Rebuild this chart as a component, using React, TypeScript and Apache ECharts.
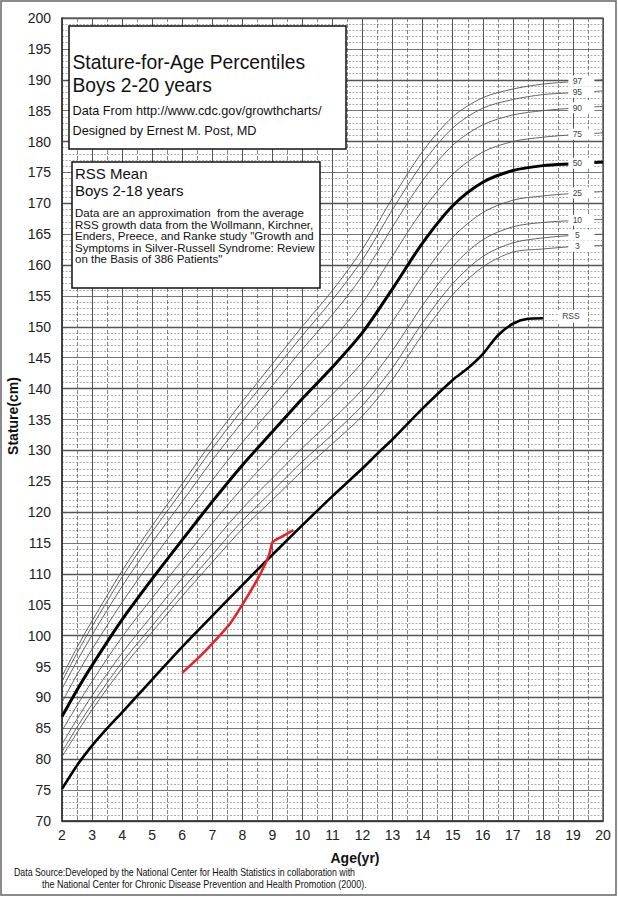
import React, { useEffect, useRef } from "react";
import * as echarts from "echarts";

const FONT = '"Liberation Sans", Arial, Helvetica, sans-serif';

// CDC stature-for-age percentiles, boys (cm)
const AGES = [2, 2.5, 3, 4, 5, 6, 7, 8, 9, 10, 11, 12, 13, 14, 15, 16, 17, 18, 19, 20];
const P3 = [80.4, 84.3, 88.0, 94.7, 100.6, 106.4, 111.9, 117.3, 122.0, 126.7, 131.1, 135.6, 141.5, 148.8, 155.2, 159.7, 162.1, 162.6, 163.0, 163.2];
const P5 = [81.2, 85.2, 88.9, 95.7, 101.6, 107.5, 113.1, 118.6, 123.4, 128.2, 132.6, 137.3, 143.4, 150.7, 157.0, 161.4, 163.6, 164.4, 164.8, 165.0];
const P10 = [82.4, 86.5, 90.3, 97.2, 103.3, 109.3, 115.0, 120.6, 125.5, 130.4, 135.0, 139.9, 146.2, 153.5, 159.8, 164.1, 166.2, 166.9, 167.2, 167.4];
const P25 = [84.6, 88.7, 92.6, 99.8, 106.1, 112.2, 118.2, 123.9, 129.1, 134.2, 139.1, 144.3, 150.9, 158.3, 164.5, 168.5, 170.5, 171.2, 171.6, 171.9];
const P50 = [86.9, 91.2, 95.2, 102.6, 109.2, 115.5, 121.7, 127.6, 133.0, 138.4, 143.5, 149.1, 156.2, 163.6, 169.6, 173.4, 175.3, 176.1, 176.4, 176.7];
const P75 = [89.2, 93.7, 97.8, 105.4, 112.3, 118.8, 125.2, 131.3, 136.9, 142.6, 147.9, 153.9, 161.5, 168.9, 174.7, 178.3, 180.0, 180.7, 181.1, 181.4];
const P90 = [91.4, 95.9, 100.1, 108.0, 115.1, 121.7, 128.4, 134.6, 140.5, 146.4, 152.0, 158.3, 166.2, 173.7, 179.4, 182.7, 184.3, 185.0, 185.4, 185.7];
const P95 = [92.6, 97.2, 101.5, 109.5, 116.8, 123.5, 130.3, 136.6, 142.6, 148.6, 154.4, 160.9, 169.0, 176.5, 182.2, 185.4, 186.8, 187.6, 187.9, 188.2];
const P97 = [93.4, 98.1, 102.4, 110.5, 117.8, 124.6, 131.5, 137.9, 144.0, 150.1, 155.9, 162.6, 170.9, 178.4, 184.0, 187.1, 188.5, 189.3, 189.7, 190.0];

const PERCENTILE_NAMES = ["3", "5", "10", "25", "50", "75", "90", "95", "97"];
const PERCENTILE_VALUES = [P3, P5, P10, P25, P50, P75, P90, P95, P97];

// RSS mean (Wollmann et al.), boys 2-18
const RSS_AGES = [2, 2.5, 3, 3.5, 4, 5, 6, 7, 8, 9, 10, 11, 12, 12.5, 13, 14, 15, 15.5, 16, 16.5, 17, 17.5, 18];
const RSS_MEAN = [75.2, 79.0, 82.2, 85.0, 87.6, 92.9, 98.2, 103.2, 108.2, 113.1, 117.9, 122.6, 127.1, 129.5, 131.8, 136.8, 141.4, 143.3, 145.6, 148.6, 150.5, 151.3, 151.4];

// patient (red)
const PATIENT_AGES = [6.0, 6.6, 7.0, 7.6, 8.2, 8.6, 8.9, 9.0, 9.3, 9.7];
const PATIENT_HEIGHT = [94.0, 96.7, 98.7, 102.0, 106.6, 110.0, 113.2, 115.1, 116.0, 117.1];

const LABEL_AGE = 19.28;
const RSS_LABEL = [19.0, 151.7];

function valueAt(ages: number[], vals: number[], a: number) {
  for (let i = 0; i < ages.length - 1; i++) {
    if (a >= ages[i] && a <= ages[i + 1]) {
      const t = (a - ages[i]) / (ages[i + 1] - ages[i]);
      return vals[i] + t * (vals[i + 1] - vals[i]);
    }
  }
  return vals[vals.length - 1];
}

function txt(t: string, x: number, y: number, s: number, extra: any = {}) {
  return {
    type: "text",
    z: 101,
    x,
    y,
    ...extra,
    style: {
      text: t,
      fill: "#111",
      fontSize: s,
      fontFamily: FONT,
      textAlign: "left",
      align: "left",
      textVerticalAlign: "middle",
      verticalAlign: "middle",
      ...(extra.style || {}),
    },
  };
}

export default function App() {
  const ref = useRef<HTMLDivElement>(null);
  useEffect(() => {
    if (!ref.current) return;
    const chart = echarts.init(ref.current, null, { renderer: "svg" });

    const pctSeries = PERCENTILE_NAMES.map((name, k) => {
      const vals = PERCENTILE_VALUES[k];
      const bold = name === "50";
      return {
        type: "line",
        name: "P" + name,
        data: AGES.map((a, i) => [a, vals[i]]),
        showSymbol: false,
        symbol: "none",
        smooth: 0.3,
        silent: true,
        z: bold ? 4 : 3,
        lineStyle: { color: bold ? "#000" : "#555", width: bold ? 3 : 0.9 },
        markPoint: {
          silent: true,
          z: 6,
          symbol: "rect",
          symbolSize: [26, 11],
          itemStyle: { color: "#fff" },
          label: {
            show: true,
            position: "inside",
            formatter: name,
            color: "#444",
            fontSize: 8.5,
            fontFamily: FONT,
            offset: [-4, 0],
          },
          data: [{ coord: [LABEL_AGE, valueAt(AGES, vals, LABEL_AGE)] }],
        },
      };
    });

    const option = {
      animation: false,
      backgroundColor: "#fff",
      textStyle: { fontFamily: FONT },
      grid: {
        left: 62,
        right: 15,
        top: 18,
        bottom: 76,
        show: true,
        borderColor: "#333",
        borderWidth: 1.2,
        backgroundColor: "#fff",
      },
      xAxis: {
        type: "value",
        min: 2,
        max: 20,
        interval: 1,
        axisLine: { show: true, lineStyle: { color: "#333", width: 1.5 } },
        axisTick: { show: false },
        axisLabel: { fontSize: 14, color: "#222", margin: 7, fontFamily: FONT },
        splitLine: { show: true, lineStyle: { color: "#555", width: 1 } },
        minorTick: { show: false, splitNumber: 2 },
        minorSplitLine: { show: true, lineStyle: { color: "#666", width: 0.8, type: [4, 2] } },
      },
      yAxis: [
        {
          type: "value",
          min: 70,
          max: 200,
          interval: 5,
          axisLine: { show: true, lineStyle: { color: "#333", width: 1.5 } },
          axisTick: { show: false },
          axisLabel: { fontSize: 14, color: "#222", margin: 11, fontFamily: FONT },
          splitLine: { show: true, lineStyle: { color: "#666", width: 0.9 } },
          minorTick: { show: false, splitNumber: 5 },
          minorSplitLine: { show: true, lineStyle: { color: "#8a8a8a", width: 0.7, type: [2, 1.5] } },
        },
        {
          type: "value",
          min: 70,
          max: 200,
          interval: 10,
          position: "left",
          axisLine: { show: false },
          axisTick: { show: false },
          axisLabel: { show: false },
          splitLine: { show: true, lineStyle: { color: "#555", width: 1.3 } },
        },
      ],
      series: [
        ...pctSeries,
        {
          type: "line",
          name: "RSS",
          data: RSS_AGES.map((a, i) => [a, RSS_MEAN[i]]),
          showSymbol: false,
          symbol: "none",
          smooth: 0.3,
          silent: true,
          z: 4,
          lineStyle: { color: "#000", width: 2.6 },
          markPoint: {
            silent: true,
            z: 6,
            symbol: "rect",
            symbolSize: [30, 13],
            itemStyle: { color: "#fff" },
            label: {
              show: true,
              position: "inside",
              formatter: "RSS",
              color: "#444",
              fontSize: 8.5,
              fontFamily: FONT,
              offset: [-2, 0],
            },
            data: [{ coord: RSS_LABEL }],
          },
        },
        {
          type: "line",
          name: "Patient",
          data: PATIENT_AGES.map((a, i) => [a, PATIENT_HEIGHT[i]]),
          showSymbol: false,
          symbol: "none",
          smooth: 0.2,
          silent: true,
          z: 5,
          lineStyle: { color: "#e3262b", width: 2.6 },
        },
      ],
      graphic: [
        {
          type: "rect",
          z: 100,
          shape: { x: 1, y: 1, width: 615, height: 894 },
          style: { fill: "none", stroke: "#666", lineWidth: 1.5 },
          silent: true,
        },
        {
          type: "rect",
          z: 100,
          shape: { x: 69, y: 26, width: 277, height: 123 },
          style: { fill: "#fff", stroke: "#111", lineWidth: 1.5 },
        },
        {
          type: "rect",
          z: 100,
          shape: { x: 72, y: 162, width: 248, height: 126 },
          style: { fill: "#fff", stroke: "#111", lineWidth: 1.5 },
        },
        txt("Stature-for-Age Percentiles", 72.5, 62, 19.3),
        txt("Boys 2-20 years", 72.5, 85, 19.3),
        txt("Data From http://www.cdc.gov/growthcharts/", 72.5, 111, 12.7),
        txt("Designed by Ernest M. Post, MD", 72.5, 131, 12.7),
        txt("RSS Mean", 75, 173, 15),
        txt("Boys 2-18 years", 75, 190, 15),
        txt("Data are an approximation  from the average", 75, 213, 11.5),
        txt("RSS growth data from the Wollmann, Kirchner,", 75, 224.5, 11.5),
        txt('Enders, Preece, and Ranke study "Growth and', 75, 236, 11.5),
        txt("Symptoms in Silver-Russell Syndrome: Review", 75, 247.5, 11.5),
        txt('on the Basis of 386 Patients"', 75, 259, 11.5),
        txt("Age(yr)", 355, 858, 14, {
          style: { fontWeight: "bold", textAlign: "center", align: "center" },
        }),
        txt("Stature(cm)", 13, 416, 14, {
          rotation: Math.PI / 2,
          style: { fontWeight: "bold", textAlign: "center", align: "center" },
        }),
        txt(
          "Data Source:Developed by the National Center for Health Statistics in collaboration with",
          14,
          872,
          10,
          { scaleX: 0.88 }
        ),
        txt(
          "the National Center for Chronic Disease Prevention and Health Promotion (2000).",
          42,
          884,
          10,
          { scaleX: 0.9 }
        ),
      ],
    };

    chart.setOption(option as any);
    return () => chart.dispose();
  }, []);

  return (
    <div
      ref={ref}
      style={{ position: "absolute", left: 0, top: 0, width: 618, height: 897, background: "#fff" }}
    />
  );
}
